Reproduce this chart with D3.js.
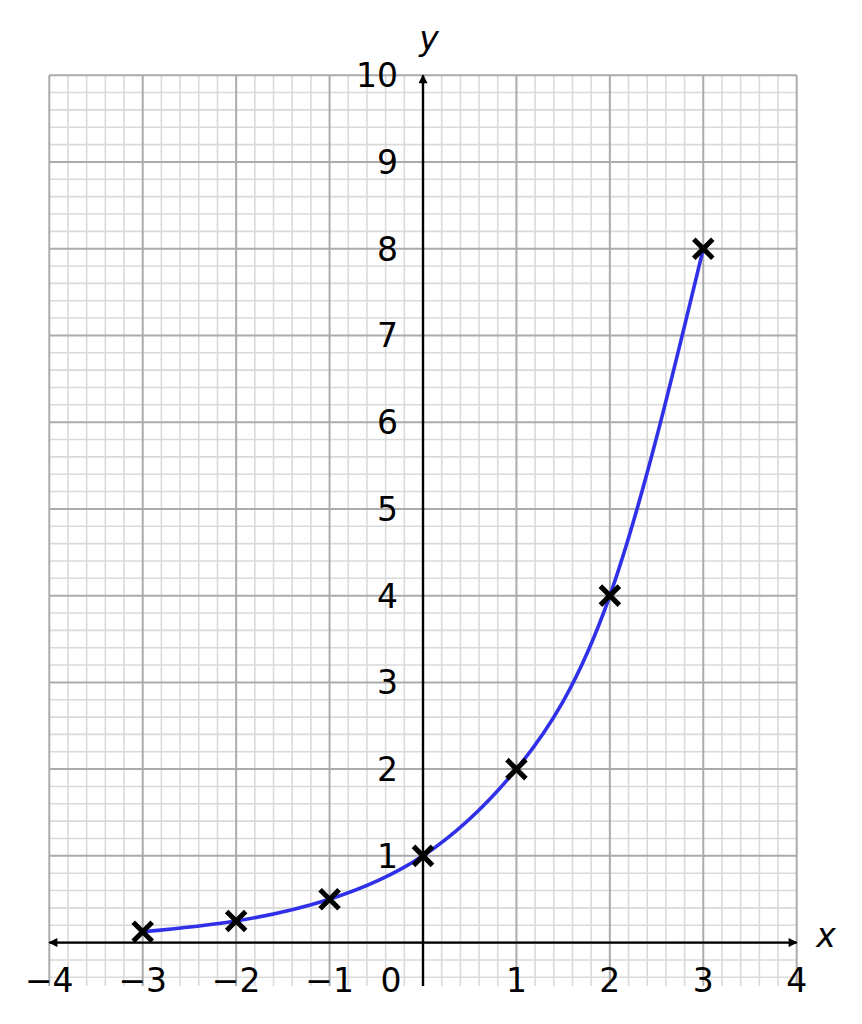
<!DOCTYPE html>
<html>
<head>
<meta charset="utf-8">
<script src="https://cdn.jsdelivr.net/npm/d3@7"></script>
<style>
  body { margin: 0; background: #fff; }
  text { font-family: "DejaVu Sans", sans-serif; fill: #000; }
</style>
</head>
<body>
<div class="chart"></div>
<script>
var pointX = [-3, -2, -1, 0, 1, 2, 3];
var pointY = [0.125, 0.25, 0.5, 1, 2, 4, 8];

var xTickLabels = ["\u22124", "\u22123", "\u22122", "\u22121", "0", "1", "2", "3", "4"];
var xTickValues = [-4, -3, -2, -1, 0, 1, 2, 3, 4];
var yTickValues = [1, 2, 3, 4, 5, 6, 7, 8, 9, 10];

var w = 862, h = 1024;

var svg = d3.select("div.chart")
  .append("svg")
  .attr("width", w)
  .attr("height", h);

//scales, grid runs -4..4 and -0.5..10
var x = d3.scaleLinear().domain([-4, 4]).range([49.3, 796.7]);
var y = d3.scaleLinear().domain([0, 10]).range([942.6, 75.2]);
var yBottom = y(-0.5);

//minor grid lines, 5 per unit
var minorX = d3.range(-20, 21).map(d => d / 5);
var minorY = d3.range(-2, 51).map(d => d / 5);

var grid = svg.append("g");

grid.selectAll("line.minx")
  .data(minorX.filter(d => Math.round(d * 5) % 5 != 0))
  .enter().append("line")
  .attr("x1", d => x(d)).attr("x2", d => x(d))
  .attr("y1", y(10)).attr("y2", yBottom)
  .attr("stroke", "#dadada").attr("stroke-width", 1.6);

grid.selectAll("line.miny")
  .data(minorY.filter(d => Math.round(d * 5) % 5 != 0))
  .enter().append("line")
  .attr("x1", x(-4)).attr("x2", x(4))
  .attr("y1", d => y(d)).attr("y2", d => y(d))
  .attr("stroke", "#dadada").attr("stroke-width", 1.6);

//major grid lines
grid.selectAll("line.majx")
  .data(xTickValues)
  .enter().append("line")
  .attr("x1", d => x(d)).attr("x2", d => x(d))
  .attr("y1", y(10)).attr("y2", yBottom)
  .attr("stroke", "#ababab").attr("stroke-width", 2);

grid.selectAll("line.majy")
  .data(d3.range(0, 11))
  .enter().append("line")
  .attr("x1", x(-4)).attr("x2", x(4))
  .attr("y1", d => y(d)).attr("y2", d => y(d))
  .attr("stroke", "#ababab").attr("stroke-width", 2);

//arrowheads
var defs = svg.append("defs");
defs.append("marker")
  .attr("id", "arrow")
  .attr("viewBox", "0 0 10 10")
  .attr("refX", 9).attr("refY", 5)
  .attr("markerWidth", 12).attr("markerHeight", 9)
  .attr("markerUnits", "userSpaceOnUse")
  .attr("orient", "auto-start-reverse")
  .append("path")
  .attr("d", "M0,0 L10,5 L0,10 Z")
  .attr("fill", "#000");

//axes
svg.append("line")
  .attr("x1", x(-4)).attr("x2", x(4))
  .attr("y1", y(0)).attr("y2", y(0))
  .attr("stroke", "#000").attr("stroke-width", 2.4)
  .attr("marker-start", "url(#arrow)")
  .attr("marker-end", "url(#arrow)");

svg.append("line")
  .attr("x1", x(0)).attr("x2", x(0))
  .attr("y1", yBottom).attr("y2", y(10))
  .attr("stroke", "#000").attr("stroke-width", 2.4)
  .attr("marker-end", "url(#arrow)");

//tick labels
svg.selectAll("text.xlab")
  .data(xTickValues)
  .enter().append("text")
  .attr("x", d => d == 0 ? x(0) - 32 : x(d))
  .attr("y", 992)
  .attr("text-anchor", "middle")
  .style("font-size", "33px")
  .text((d, i) => xTickLabels[i]);

svg.selectAll("text.ylab")
  .data(yTickValues)
  .enter().append("text")
  .attr("x", x(0) - 25)
  .attr("y", d => y(d) + 12)
  .attr("text-anchor", "end")
  .style("font-size", "33px")
  .text(d => d);

//axis titles
svg.append("text")
  .attr("x", 429).attr("y", 50)
  .attr("text-anchor", "middle")
  .style("font-size", "33px")
  .style("font-style", "italic")
  .text("y");

svg.append("text")
  .attr("x", 826).attr("y", 947)
  .attr("text-anchor", "middle")
  .style("font-size", "33px")
  .style("font-style", "italic")
  .text("x");

//curve through the points
var pts = pointX.map((d, i) => [d, pointY[i]]);
var line = d3.line()
  .x(d => x(d[0]))
  .y(d => y(d[1]))
  .curve(d3.curveNatural);

svg.append("path")
  .datum(pts)
  .attr("d", line)
  .attr("fill", "none")
  .attr("stroke", "#3030e8")
  .attr("stroke-width", 3.6);

//crosses
var s = 9.5;
var marks = svg.selectAll("g.mark")
  .data(pts)
  .enter().append("g")
  .attr("transform", d => `translate(${x(d[0])},${y(d[1])})`);

marks.append("path")
  .attr("d", `M${-s},${-s}L${s},${s}M${-s},${s}L${s},${-s}`)
  .attr("stroke", "#000")
  .attr("stroke-width", 5);
</script>
</body>
</html>
